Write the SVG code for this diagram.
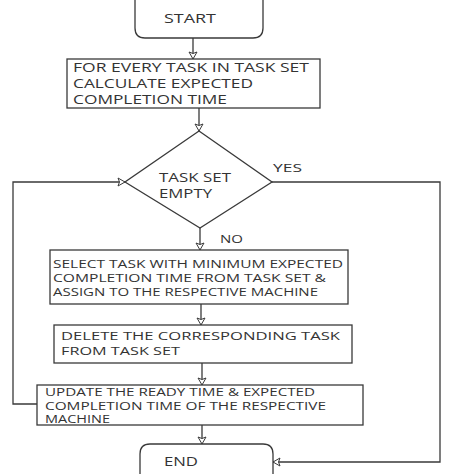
<svg xmlns="http://www.w3.org/2000/svg" width="474" height="474" viewBox="0 0 474 474">
<style>
.shape{fill:#fff;stroke:#3a3a3a;stroke-width:1.3}
.conn{fill:none;stroke:#3a3a3a;stroke-width:1.3}
.t{font-family:"Open Sans","Liberation Sans",Arial,sans-serif;fill:#333;}
.t1{font-size:12.5px}
.t2{font-size:11px}
.t3{font-size:10px}
</style>
<defs>
<marker id="arr" viewBox="-9 -5 10 10" refX="0" refY="0" markerWidth="10" markerHeight="10" markerUnits="userSpaceOnUse" orient="auto">
<path d="M0,0 L-7,-4 L-5.5,0 L-7,4 Z" fill="#fff" stroke="#3a3a3a" stroke-width="1" stroke-linejoin="round"/>
</marker>
</defs>
<rect width="474" height="474" fill="#fff"/>
<g id="connectors">
<path class="conn" d="M193,38 V59" marker-end="url(#arr)"/>
<path class="conn" d="M199,108 V131" marker-end="url(#arr)"/>
<path class="conn" d="M200,228 V250" marker-end="url(#arr)"/>
<path class="conn" d="M201,304 V325" marker-end="url(#arr)"/>
<path class="conn" d="M202,363 V385" marker-end="url(#arr)"/>
<path class="conn" d="M202,425 V444" marker-end="url(#arr)"/>
<path class="conn" d="M272,182 H440 V462 H273" marker-end="url(#arr)"/>
<path class="conn" d="M37,404 H13 V182 H125" marker-end="url(#arr)"/>
<text class="t t2" x="273" y="172" textLength="29" lengthAdjust="spacingAndGlyphs">YES</text>
<text class="t t2" x="220" y="243" textLength="23" lengthAdjust="spacingAndGlyphs">NO</text>
</g>
<g id="start">
<path class="shape" d="M135,-5 V28 Q135,38 145,38 H253 Q263,38 263,28 V-5"/>
<text class="t t1" x="164" y="23" textLength="52" lengthAdjust="spacingAndGlyphs">START</text>
</g>
<g id="calc">
<rect class="shape" x="67" y="59" width="253" height="49"/>
<text class="t t1" x="73" y="72" textLength="236" lengthAdjust="spacingAndGlyphs">FOR EVERY TASK IN TASK SET</text>
<text class="t t1" x="73" y="88" textLength="180" lengthAdjust="spacingAndGlyphs">CALCULATE EXPECTED</text>
<text class="t t1" x="73" y="104" textLength="154" lengthAdjust="spacingAndGlyphs">COMPLETION TIME</text>
</g>
<g id="decision">
<polygon class="shape" points="199,131 272,182 200,228 125,182"/>
<text class="t t1" x="159" y="182" textLength="72" lengthAdjust="spacingAndGlyphs">TASK SET</text>
<text class="t t1" x="159" y="198" textLength="53" lengthAdjust="spacingAndGlyphs">EMPTY</text>
</g>
<g id="select">
<rect class="shape" x="50" y="250" width="298" height="54"/>
<text class="t t2" x="53" y="268" textLength="290" lengthAdjust="spacingAndGlyphs">SELECT TASK WITH  MINIMUM  EXPECTED</text>
<text class="t t2" x="53" y="282" textLength="273" lengthAdjust="spacingAndGlyphs">COMPLETION TIME FROM TASK SET &amp;</text>
<text class="t t2" x="53" y="296" textLength="265" lengthAdjust="spacingAndGlyphs">ASSIGN TO THE RESPECTIVE MACHINE</text>
</g>
<g id="delete">
<rect class="shape" x="54" y="325" width="298" height="38"/>
<text class="t t2" x="61" y="340" textLength="279" lengthAdjust="spacingAndGlyphs">DELETE THE CORRESPONDING TASK</text>
<text class="t t2" x="61" y="355" textLength="119" lengthAdjust="spacingAndGlyphs">FROM TASK SET</text>
</g>
<g id="update">
<rect class="shape" x="37" y="385" width="326" height="40"/>
<text class="t t3" x="45" y="396" textLength="270" lengthAdjust="spacingAndGlyphs">UPDATE THE READY TIME &amp; EXPECTED</text>
<text class="t t3" x="45" y="409.5" textLength="281" lengthAdjust="spacingAndGlyphs">COMPLETION TIME OF THE RESPECTIVE</text>
<text class="t t3" x="45" y="423" textLength="65" lengthAdjust="spacingAndGlyphs">MACHINE</text>
</g>
<g id="end">
<path class="shape" d="M140,480 V454 Q140,444 150,444 H263 Q273,444 273,454 V480"/>
<text class="t t1" x="164" y="466" textLength="34" lengthAdjust="spacingAndGlyphs">END</text>
</g>
</svg>
